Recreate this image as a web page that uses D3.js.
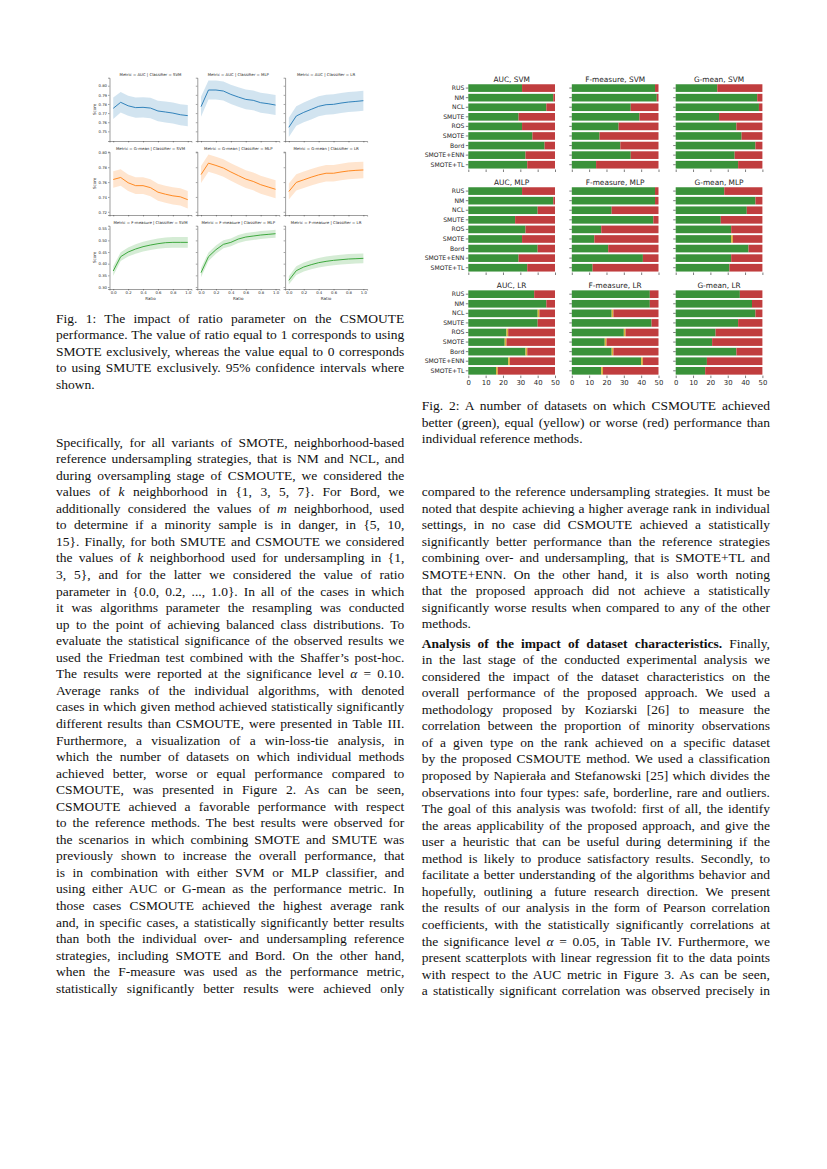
<!DOCTYPE html>
<html><head><meta charset="utf-8">
<script src="https://cdn.jsdelivr.net/npm/d3@7"></script>
<style>html,body{margin:0;padding:0;background:#fff}</style>
</head><body>
<svg id="page" width="827" height="1169" xmlns="http://www.w3.org/2000/svg"></svg>
<script>
// ---------------- Figure 1 data ----------------
const ratios = [0.0,0.1,0.2,0.3,0.4,0.5,0.6,0.7,0.8,0.9,1.0];
const metrics = ["AUC","G-mean","F-measure"];
const classifiers = ["SVM","MLP","LR"];
const aucSVM = [0.7752,0.7818,0.7780,0.7760,0.7763,0.7755,0.7723,0.7712,0.7700,0.7682,0.7672];
const aucMLP = [0.7770,0.7953,0.7953,0.7942,0.7905,0.7876,0.7850,0.7840,0.7814,0.7803,0.7788];
const aucLR  = [0.7544,0.7668,0.7708,0.7741,0.7774,0.7792,0.7796,0.7810,0.7821,0.7828,0.7836];
const gmSVM  = [0.7635,0.7662,0.7591,0.7552,0.7552,0.7525,0.7464,0.7437,0.7415,0.7402,0.7363];
const gmMLP  = [0.7701,0.7855,0.7824,0.7789,0.7736,0.7688,0.7640,0.7609,0.7565,0.7534,0.7503];
const gmLR   = [0.7473,0.7596,0.7631,0.7666,0.7697,0.7719,0.7719,0.7736,0.7750,0.7758,0.7763];
const fmSVM  = [0.3686,0.4300,0.4500,0.4629,0.4729,0.4800,0.4857,0.4900,0.4914,0.4914,0.4914];
const fmMLP  = [0.3614,0.4300,0.4600,0.4829,0.4914,0.5057,0.5143,0.5186,0.5229,0.5257,0.5286];
const fmLR   = [0.3286,0.3700,0.3857,0.3957,0.4043,0.4100,0.4143,0.4171,0.4200,0.4214,0.4229];
// 95% CI half-widths
const aucSVMci = [0.0118,0.0112,0.0110,0.0110,0.0111,0.0112,0.0113,0.0114,0.0115,0.0116,0.0117];
const aucMLPci = [0.0110,0.0104,0.0104,0.0105,0.0106,0.0107,0.0108,0.0108,0.0109,0.0110,0.0110];
const aucLRci  = [0.0106,0.0108,0.0109,0.0110,0.0110,0.0110,0.0110,0.0110,0.0110,0.0110,0.0110];
const gmSVMci  = [0.0112,0.0110,0.0111,0.0112,0.0113,0.0114,0.0115,0.0115,0.0116,0.0116,0.0117];
const gmMLPci  = [0.0114,0.0116,0.0116,0.0117,0.0118,0.0119,0.0120,0.0120,0.0121,0.0121,0.0122];
const gmLRci   = [0.0108,0.0110,0.0110,0.0111,0.0111,0.0112,0.0112,0.0112,0.0112,0.0112,0.0112];
const fmSVMci  = [0.0200,0.0190,0.0195,0.0200,0.0210,0.0215,0.0220,0.0225,0.0230,0.0232,0.0235];
const fmMLPci  = [0.0200,0.0180,0.0175,0.0172,0.0170,0.0170,0.0170,0.0170,0.0170,0.0170,0.0170];
const fmLRci   = [0.0180,0.0190,0.0195,0.0200,0.0205,0.0205,0.0208,0.0210,0.0210,0.0210,0.0210];
const f1YTicksAUC = [0.75,0.76,0.77,0.78,0.79,0.80];
const f1YTicksGM  = [0.72,0.74,0.76,0.78,0.80];
const f1YTicksFM  = [0.30,0.35,0.40,0.45,0.50,0.55];
const f1XTicks    = [0.0,0.2,0.4,0.6,0.8,1.0];

// ---------------- Figure 2 data ----------------
const methods = ["RUS","NM","NCL","SMUTE","ROS","SMOTE","Bord","SMOTE+ENN","SMOTE+TL"];
const f2XTicks = [0,10,20,30,40,50];
const aucSVMbetter = [31,49,45,29,31,37,44,33,34];
const aucSVMequal  = [0,0,0,0,0,0,0,0,0];
const aucSVMworse  = [19,1,5,21,19,13,6,17,16];
const fmSVMbetter  = [48,49,34,39,27,16,28,34,14];
const fmSVMequal   = [0,0,0,0,0,0,0,0,0];
const fmSVMworse   = [2,1,16,11,23,34,22,16,36];
const gmSVMbetter  = [24,47,48,25,35,38,46,34,36];
const gmSVMequal   = [0,0,0,0,0,0,0,0,0];
const gmSVMworse   = [26,3,2,25,15,12,4,16,14];
const aucMLPbetter = [31,49,40,27,33,31,40,29,34];
const aucMLPequal  = [0,0,0,0,0,0,0,0,0];
const aucMLPworse  = [19,1,10,23,17,19,10,21,16];
const fmMLPbetter  = [48,48,23,47,17,13,21,41,12];
const fmMLPequal   = [0,0,0,0,0,0,0,0,0];
const fmMLPworse   = [2,2,27,3,33,37,29,9,38];
const gmMLPbetter  = [28,46,41,26,32,32,42,32,31];
const gmMLPequal   = [0,0,0,0,0,1,0,0,0];
const gmMLPworse   = [22,4,9,24,18,17,8,18,19];
const aucLRbetter  = [38,45,40,40,22,21,33,23,16];
const aucLRequal   = [0,0,1,0,1,1,1,1,1];
const aucLRworse   = [12,5,9,10,27,28,16,26,33];
const fmLRbetter   = [45,45,23,46,30,19,23,40,17];
const fmLRequal    = [0,0,1,0,1,1,1,1,1];
const fmLRworse    = [5,5,26,4,19,30,26,9,32];
const gmLRbetter   = [37,44,46,36,23,21,35,18,17];
const gmLRequal    = [0,0,0,0,0,0,0,0,0];
const gmLRworse    = [13,6,4,14,27,29,15,32,33];

// ---------------- Text ----------------
const fig1Caption = [
"Fig. 1: The impact of ratio parameter on the CSMOUTE",
"performance. The value of ratio equal to 1 corresponds to using",
"SMOTE exclusively, whereas the value equal to 0 corresponds",
"to using SMUTE exclusively. 95% confidence intervals where",
"shown."];
const fig2Caption = [
"Fig. 2: A number of datasets on which CSMOUTE achieved",
"better (green), equal (yellow) or worse (red) performance than",
"individual reference methods."];
const leftBody = [
"Specifically, for all variants of SMOTE, neighborhood-based",
"reference undersampling strategies, that is NM and NCL, and",
"during oversampling stage of CSMOUTE, we considered the",
"values of *k* neighborhood in {1, 3, 5, 7}. For Bord, we",
"additionally considered the values of *m* neighborhood, used",
"to determine if a minority sample is in danger, in {5, 10,",
"15}. Finally, for both SMUTE and CSMOUTE we considered",
"the values of *k* neighborhood used for undersampling in {1,",
"3, 5}, and for the latter we considered the value of ratio",
"parameter in {0.0, 0.2, ..., 1.0}. In all of the cases in which",
"it was algorithms parameter the resampling was conducted",
"up to the point of achieving balanced class distributions. To",
"evaluate the statistical significance of the observed results we",
"used the Friedman test combined with the Shaffer’s post-hoc.",
"The results were reported at the significance level *α* = 0.10.",
"Average ranks of the individual algorithms, with denoted",
"cases in which given method achieved statistically significantly",
"different results than CSMOUTE, were presented in Table III.",
"Furthermore, a visualization of a win-loss-tie analysis, in",
"which the number of datasets on which individual methods",
"achieved better, worse or equal performance compared to",
"CSMOUTE, was presented in Figure 2. As can be seen,",
"CSMOUTE achieved a favorable performance with respect",
"to the reference methods. The best results were observed for",
"the scenarios in which combining SMOTE and SMUTE was",
"previously shown to increase the overall performance, that",
"is in combination with either SVM or MLP classifier, and",
"using either AUC or G-mean as the performance metric. In",
"those cases CSMOUTE achieved the highest average rank",
"and, in specific cases, a statistically significantly better results",
"than both the individual over- and undersampling reference",
"strategies, including SMOTE and Bord. On the other hand,",
"when the F-measure was used as the performance metric,",
"statistically significantly better results were achieved only"];
const rightBody1 = [
"compared to the reference undersampling strategies. It must be",
"noted that despite achieving a higher average rank in individual",
"settings, in no case did CSMOUTE achieved a statistically",
"significantly better performance than the reference strategies",
"combining over- and undersampling, that is SMOTE+TL and",
"SMOTE+ENN. On the other hand, it is also worth noting",
"that the proposed approach did not achieve a statistically",
"significantly worse results when compared to any of the other",
"methods."];
const rightBody2 = [
"**Analysis of the impact of dataset characteristics.** Finally,",
"in the last stage of the conducted experimental analysis we",
"considered the impact of the dataset characteristics on the",
"overall performance of the proposed approach. We used a",
"methodology proposed by Koziarski [26] to measure the",
"correlation between the proportion of minority observations",
"of a given type on the rank achieved on a specific dataset",
"by the proposed CSMOUTE method. We used a classification",
"proposed by Napierała and Stefanowski [25] which divides the",
"observations into four types: safe, borderline, rare and outliers.",
"The goal of this analysis was twofold: first of all, the identify",
"the areas applicability of the proposed approach, and give the",
"user a heuristic that can be useful during determining if the",
"method is likely to produce satisfactory results. Secondly, to",
"facilitate a better understanding of the algorithms behavior and",
"hopefully, outlining a future research direction. We present",
"the results of our analysis in the form of Pearson correlation",
"coefficients, with the statistically significantly correlations at",
"the significance level *α* = 0.05, in Table IV. Furthermore, we",
"present scatterplots with linear regression fit to the data points",
"with respect to the AUC metric in Figure 3. As can be seen,",
"a statistically significant correlation was observed precisely in"];

// =====================================================
const svg = d3.select("#page");
const AX = "#262626";

// ---------- Figure 1 ----------
const f1Series = [
  [[aucSVM,aucSVMci],[aucMLP,aucMLPci],[aucLR,aucLRci]],
  [[gmSVM,gmSVMci],[gmMLP,gmMLPci],[gmLR,gmLRci]],
  [[fmSVM,fmSVMci],[fmMLP,fmMLPci],[fmLR,fmLRci]]];
const f1YTicks = [f1YTicksAUC,f1YTicksGM,f1YTicksFM];
const f1Colors = ["#1f77b4","#ff7f0e","#2ca02c"];
const f1Left = [109.5,197.3,285.1], f1W = 82;
const f1Top = [77.7,151.7,225.7], f1H = 63.3;
const f1Dom = [[0.7394,0.8088],[0.7157,0.8009],[0.2914,0.5629]];
const f1 = svg.append("g").attr("class","fig1");
metrics.forEach((m,r)=>{
  const y = d3.scaleLinear().domain(f1Dom[r]).range([f1Top[r]+f1H,f1Top[r]]);
  classifiers.forEach((c,ci)=>{
    const x = d3.scaleLinear().domain([-0.05,1.05]).range([f1Left[ci],f1Left[ci]+f1W]);
    const g = f1.append("g");
    const [vals,hw] = f1Series[r][ci];
    const pts = ratios.map((d,i)=>({x:d,y:vals[i],lo:vals[i]-hw[i],hi:vals[i]+hw[i]}));
    g.append("path").datum(pts)
      .attr("d",d3.area().x(d=>x(d.x)).y0(d=>y(d.lo)).y1(d=>y(d.hi)))
      .attr("fill",f1Colors[r]).attr("fill-opacity",0.2);
    g.append("path").datum(pts)
      .attr("d",d3.line().x(d=>x(d.x)).y(d=>y(d.y)))
      .attr("fill","none").attr("stroke",f1Colors[r]).attr("stroke-width",0.9);
    const ya = d3.axisLeft(y).tickValues(f1YTicks[r]).tickSize(1.5).tickPadding(1)
      .tickFormat(ci===0?d3.format(".2f"):()=>"");
    const yg = g.append("g").attr("transform",`translate(${f1Left[ci]},0)`).call(ya);
    const xa = d3.axisBottom(x).tickValues(f1XTicks).tickSize(1.5).tickPadding(0.8)
      .tickFormat(r===2?d3.format(".1f"):()=>"");
    const xg = g.append("g").attr("transform",`translate(0,${f1Top[r]+f1H})`).call(xa);
    [yg,xg].forEach(a=>{
      a.attr("font-family","DejaVu Sans").attr("font-size",3.8);
      a.select(".domain").attr("stroke",AX).attr("stroke-width",0.45);
      a.selectAll(".tick line").attr("stroke",AX).attr("stroke-width",0.4);
      a.selectAll(".tick text").attr("fill",AX);
    });
    g.append("text").attr("x",f1Left[ci]+f1W/2).attr("y",f1Top[r]-2.2)
      .attr("text-anchor","middle").attr("font-family","DejaVu Sans").attr("font-size",3.9)
      .attr("fill",AX).text(`Metric = ${m} | Classifier = ${c}`);
    if(ci===0){
      g.append("text").attr("transform",`translate(96.3,${f1Top[r]+f1H/2}) rotate(-90)`)
        .attr("text-anchor","middle").attr("font-family","DejaVu Sans").attr("font-size",4.1)
        .attr("fill",AX).text("Score");
    }
    if(r===2){
      g.append("text").attr("x",f1Left[ci]+f1W/2).attr("y",299.5)
        .attr("text-anchor","middle").attr("font-family","DejaVu Sans").attr("font-size",4.1)
        .attr("fill",AX).text("Ratio");
    }
  });
});

// ---------- Figure 2 ----------
const f2Data = [
  [[aucSVMbetter,aucSVMequal,aucSVMworse],[fmSVMbetter,fmSVMequal,fmSVMworse],[gmSVMbetter,gmSVMequal,gmSVMworse]],
  [[aucMLPbetter,aucMLPequal,aucMLPworse],[fmMLPbetter,fmMLPequal,fmMLPworse],[gmMLPbetter,gmMLPequal,gmMLPworse]],
  [[aucLRbetter,aucLRequal,aucLRworse],[fmLRbetter,fmLRequal,fmLRworse],[gmLRbetter,gmLRequal,gmLRworse]]];
const f2Metrics = ["AUC","F-measure","G-mean"];
const f2Colors = ["#3a923a","#d9b13b","#c03d3e"];
const f2Left = [468.3,571.8,675.7], f2W = 86.7;
const f2Top = [83.3,186.3,289.4], f2H = 86.2;
const f2 = svg.append("g").attr("class","fig2");
classifiers.forEach((c,r)=>{
  const y = d3.scaleBand().domain(methods).range([f2Top[r],f2Top[r]+f2H]).paddingInner(0.2).paddingOuter(0.1);
  f2Metrics.forEach((m,ci)=>{
    const x = d3.scaleLinear().domain([0,50]).range([f2Left[ci],f2Left[ci]+f2W]);
    const g = f2.append("g");
    const [b,e,w] = f2Data[r][ci];
    const rows = methods.map((k,i)=>({k,segs:[[0,b[i]],[b[i],b[i]+e[i]],[b[i]+e[i],b[i]+e[i]+w[i]]]}));
    rows.forEach(row=>{
      row.segs.forEach((s,si)=>{
        if(s[1]-s[0]<=0) return;
        g.append("rect").attr("x",x(s[0])).attr("y",y(row.k))
          .attr("width",x(s[1])-x(s[0])).attr("height",y.bandwidth())
          .attr("fill",f2Colors[si]);
      });
    });
    const ya = d3.axisLeft(y).tickSize(2.5).tickPadding(1.5).tickFormat(ci===0?(d=>d):()=>"");
    const yg = g.append("g").attr("transform",`translate(${f2Left[ci]},0)`).call(ya);
    yg.attr("font-family","DejaVu Sans").attr("font-size",6.1);
    const xa = d3.axisBottom(x).tickValues(f2XTicks).tickSize(2.5).tickPadding(1.8)
      .tickFormat(r===2?d3.format("d"):()=>"");
    const xg = g.append("g").attr("transform",`translate(0,${f2Top[r]+f2H})`).call(xa);
    xg.attr("font-family","DejaVu Sans").attr("font-size",6.9);
    [yg,xg].forEach(a=>{
      a.select(".domain").remove();
      a.selectAll(".tick line").attr("stroke",AX).attr("stroke-width",0.6);
      a.selectAll(".tick text").attr("fill",AX);
    });
    g.append("text").attr("x",f2Left[ci]+f2W/2).attr("y",f2Top[r]-1.6)
      .attr("text-anchor","middle").attr("font-family","DejaVu Sans").attr("font-size",7.4)
      .attr("fill",AX).text(`${m}, ${c}`);
  });
});

// ---------- Body text ----------
const FS = 13.5, LH = 16.55, COLW = 348.3;
function addBlock(lines, x, yc0, endsPara){
  lines.forEach((ln,i)=>{
    const t = svg.append("text").attr("x",x).attr("y",yc0+i*LH+4.3)
      .attr("font-family","Liberation Serif").attr("font-size",FS).attr("fill","#111")
      .attr("xml:space","preserve");
    ln.split(/(\*\*[^*]+\*\*|\*[^*]+\*)/).filter(s=>s.length).forEach(s=>{
      const ts = t.append("tspan");
      if(s.startsWith("**")){ts.attr("font-weight","bold").text(s.slice(2,-2));}
      else if(s.startsWith("*")){ts.attr("font-style","italic").text(s.slice(1,-1));}
      else ts.text(s);
    });
    const last = endsPara && i===lines.length-1;
    if(!last){
      const len = t.node().getComputedTextLength();
      const n = (ln.match(/ /g)||[]).length;
      if(n>0) t.attr("word-spacing",((COLW-len)/n).toFixed(3));
    }
  });
}
addBlock(fig1Caption, 56, 318.3, true);
addBlock(leftBody, 56, 442.3, false);
addBlock(fig2Caption, 421.7, 405.7, true);
addBlock(rightBody1, 421.7, 491.7, true);
addBlock(rightBody2, 421.7, 643.3, false);
</script></body></html>
